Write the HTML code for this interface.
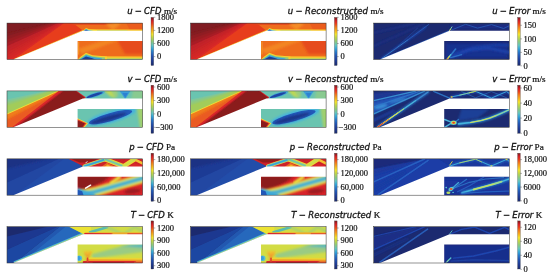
<!DOCTYPE html>
<html><head><meta charset="utf-8"><title>CFD vs Reconstructed</title>
<style>html,body{margin:0;padding:0;background:#fff}svg{display:block}
.t{font-family:"DejaVu Sans","Liberation Sans",sans-serif;font-style:italic;font-size:8.5px;word-spacing:-0.5px;fill:#111;stroke:#111;stroke-width:0.3px}
.u{font-family:"Liberation Serif",serif;font-style:normal;font-size:9.2px;fill:#111;stroke:#111;stroke-width:0.22px}
.k{font-family:"Liberation Serif",serif;font-size:8.5px;fill:#111;stroke:#111;stroke-width:0.2px}
</style></head><body>
<svg width="550" height="279" viewBox="0 0 550 279">
<defs>
<clipPath id="dom"><path d="M0,0H135.7V7.6H75.9L6.3,36.4H0Z M70.6,18.0H135.7V36.4H70.6Z"/></clipPath>
<filter id="bl" x="-5%" y="-20%" width="110%" height="140%"><feGaussianBlur stdDeviation="0.55"/></filter>
<filter id="bl0" x="-20%" y="-40%" width="140%" height="180%"><feGaussianBlur stdDeviation="0.4"/></filter>
<filter id="bl1" x="-20%" y="-40%" width="140%" height="180%"><feGaussianBlur stdDeviation="0.8"/></filter>
<filter id="bl2" x="-20%" y="-40%" width="140%" height="180%"><feGaussianBlur stdDeviation="1.3"/></filter>
<linearGradient id="jet" x1="0" y1="1" x2="0" y2="0"><stop offset="0.00" stop-color="#1b2a6b"/><stop offset="0.10" stop-color="#1e3a93"/><stop offset="0.20" stop-color="#2254b2"/><stop offset="0.28" stop-color="#2878c8"/><stop offset="0.35" stop-color="#34a5d8"/><stop offset="0.42" stop-color="#62c4c0"/><stop offset="0.50" stop-color="#8cc97c"/><stop offset="0.58" stop-color="#bed548"/><stop offset="0.65" stop-color="#f2e32c"/><stop offset="0.72" stop-color="#f6b21c"/><stop offset="0.80" stop-color="#f07a1c"/><stop offset="0.87" stop-color="#e83e1c"/><stop offset="0.93" stop-color="#d42026"/><stop offset="1.00" stop-color="#7a1a1e"/></linearGradient>
</defs>
<rect width="550" height="279" fill="#fff"/>
<g transform="translate(7.0,23.1)">
<g clip-path="url(#dom)"><g filter="url(#bl)">
<rect x="-8.0" y="-8.0" width="151.7" height="52.4" fill="#ee6c1e" />
<rect x="-8.0" y="-8.0" width="70.0" height="60.0" fill="#801a20" />
<polygon points="-8.0,11.7 41.8,0.0 41.8,-3.0 58.0,-3.0 58.0,0.0 -8.0,50.0" fill="#841b20" />
<polygon points="-8.0,15.4 44.1,0.0 44.1,-3.0 58.0,-3.0 58.0,0.0 -8.0,50.0" fill="#901c22" />
<polygon points="-8.0,19.2 46.4,0.0 46.4,-3.0 58.0,-3.0 58.0,0.0 -8.0,50.0" fill="#9c1d24" />
<polygon points="-8.0,22.9 48.7,0.0 48.7,-3.0 58.0,-3.0 58.0,0.0 -8.0,50.0" fill="#a81e25" />
<polygon points="-8.0,26.7 51.0,0.0 51.0,-3.0 58.0,-3.0 58.0,0.0 -8.0,50.0" fill="#c02129" />
<polygon points="-8.0,30.1 52.0,0.0 52.0,-3.0 58.0,-3.0 58.0,0.0 -8.0,50.0" fill="#c52329" />
<polygon points="-8.0,33.5 53.1,0.0 53.1,-3.0 58.0,-3.0 58.0,0.0 -8.0,50.0" fill="#ca2528" />
<polygon points="-8.0,36.9 54.1,0.0 54.1,-3.0 58.0,-3.0 58.0,0.0 -8.0,50.0" fill="#cf2628" />
<polygon points="-8.0,40.3 55.2,0.0 55.2,-3.0 58.0,-3.0 58.0,0.0 -8.0,50.0" fill="#d42828" />
<polygon points="-8.0,43.7 56.2,0.0 56.2,-3.0 58.0,-3.0 58.0,0.0 -8.0,50.0" fill="#d92a27" />
<polygon points="6.3,36.4 57.3,0.0 57.3,-3.0 66.0,-3.0 66.0,0.0 77.4,8.6" fill="#e73e1c" />
<line x1="7.3" y1="36.2" x2="75.9" y2="7.4" stroke="#f6c22a" stroke-width="1.00" stroke-linecap="round" />
<polygon points="60.0,-3.0 100.0,-3.0 108.0,1.8 66.0,1.8" fill="#e4431c" opacity="0.8"/>
<polygon points="118.0,-2.0 140.0,-2.0 140.0,9.0 124.0,9.0" fill="#ea581c" opacity="0.8"/>
<g filter="url(#bl2)">
<polygon points="98.0,1.0 106.0,7.0 114.0,1.0 106.0,-1.0" fill="#f69a2a" opacity="0.7"/>
</g>
<line x1="82.0" y1="7.0" x2="137.0" y2="7.1" stroke="#f6c62e" stroke-width="1.60" stroke-linecap="round" />
<line x1="82.0" y1="7.5" x2="120.0" y2="7.5" stroke="#b4d45c" stroke-width="0.70" stroke-linecap="round" />
<polygon points="75.6,8.2 79.0,5.0 83.0,6.5 90.0,6.8 90.0,8.2" fill="#f4dc30" />
<polygon points="76.2,8.2 79.0,5.8 82.5,7.1 88.0,8.2" fill="#4cb8d0" />
<polygon points="76.9,8.2 79.0,6.5 82.0,8.2" fill="#2554b0" />
<g filter="url(#bl2)">
<polygon points="110.0,17.0 140.0,17.0 140.0,31.0 118.0,31.0" fill="#e6481c" opacity="0.9"/>
<polygon points="75.0,31.0 112.0,17.0 98.0,17.0 71.0,26.0" fill="#f5962a" opacity="0.6"/>
</g>
<line x1="84.0" y1="34.9" x2="137.0" y2="35.1" stroke="#f6c62e" stroke-width="3.40" stroke-linecap="round" />
<line x1="84.0" y1="35.7" x2="137.0" y2="35.8" stroke="#c8d84a" stroke-width="1.70" stroke-linecap="round" />
<line x1="84.0" y1="36.3" x2="137.0" y2="36.3" stroke="#6cc4b0" stroke-width="0.90" stroke-linecap="round" />
<polygon points="70.0,37.0 73.5,33.6 79.0,29.6 85.5,32.2 100.0,33.3 100.0,37.0" fill="#f6d030" />
<polygon points="70.5,37.0 74.5,34.2 79.0,31.0 85.5,33.2 98.0,34.5 98.0,37.0" fill="#8ccc7c" />
<polygon points="71.5,37.0 75.0,34.8 79.0,32.0 85.5,34.0 95.0,35.5 95.0,37.0" fill="#3aa4d8" />
<polygon points="72.5,37.0 76.0,35.2 79.0,33.3 84.5,34.9 90.0,37.0" fill="#1f3c96" />
<line x1="71.6" y1="19.0" x2="71.6" y2="31.0" stroke="#f6a428" stroke-width="1.20" stroke-linecap="round" opacity="0.7"/>
</g></g>
<rect x="0" y="0" width="135.7" height="36.4" fill="none" stroke="#3a3a3a" stroke-width="0.55"/>
</g>
<rect x="151.0" y="17.4" width="2.7" height="48.1" fill="url(#jet)" stroke="#444" stroke-width="0.3"/>
<line x1="153.7" y1="17.3" x2="155.3" y2="17.3" stroke="#333" stroke-width="0.4"/><text class="k" x="157.0" y="20.1">1800</text>
<line x1="153.7" y1="30.4" x2="155.3" y2="30.4" stroke="#333" stroke-width="0.4"/><text class="k" x="157.0" y="33.1">1200</text>
<line x1="153.7" y1="43.5" x2="155.3" y2="43.5" stroke="#333" stroke-width="0.4"/><text class="k" x="157.0" y="46.2">600</text>
<line x1="153.7" y1="56.6" x2="155.3" y2="56.6" stroke="#333" stroke-width="0.4"/><text class="k" x="157.0" y="59.4">0</text>
<text class="t" text-anchor="middle" x="152.2" y="14.1">u − CFD<tspan class="u" dx="2.4" letter-spacing="0">m/s</tspan></text>
<g transform="translate(190.4,23.1)">
<g clip-path="url(#dom)"><g filter="url(#bl)">
<rect x="-8.0" y="-8.0" width="151.7" height="52.4" fill="#ee6c1e" />
<rect x="-8.0" y="-8.0" width="70.0" height="60.0" fill="#801a20" />
<polygon points="-8.0,11.7 41.8,0.0 41.8,-3.0 58.0,-3.0 58.0,0.0 -8.0,50.0" fill="#841b20" />
<polygon points="-8.0,15.4 44.1,0.0 44.1,-3.0 58.0,-3.0 58.0,0.0 -8.0,50.0" fill="#901c22" />
<polygon points="-8.0,19.2 46.4,0.0 46.4,-3.0 58.0,-3.0 58.0,0.0 -8.0,50.0" fill="#9c1d24" />
<polygon points="-8.0,22.9 48.7,0.0 48.7,-3.0 58.0,-3.0 58.0,0.0 -8.0,50.0" fill="#a81e25" />
<polygon points="-8.0,26.7 51.0,0.0 51.0,-3.0 58.0,-3.0 58.0,0.0 -8.0,50.0" fill="#c02129" />
<polygon points="-8.0,30.1 52.0,0.0 52.0,-3.0 58.0,-3.0 58.0,0.0 -8.0,50.0" fill="#c52329" />
<polygon points="-8.0,33.5 53.1,0.0 53.1,-3.0 58.0,-3.0 58.0,0.0 -8.0,50.0" fill="#ca2528" />
<polygon points="-8.0,36.9 54.1,0.0 54.1,-3.0 58.0,-3.0 58.0,0.0 -8.0,50.0" fill="#cf2628" />
<polygon points="-8.0,40.3 55.2,0.0 55.2,-3.0 58.0,-3.0 58.0,0.0 -8.0,50.0" fill="#d42828" />
<polygon points="-8.0,43.7 56.2,0.0 56.2,-3.0 58.0,-3.0 58.0,0.0 -8.0,50.0" fill="#d92a27" />
<polygon points="6.3,36.4 57.3,0.0 57.3,-3.0 66.0,-3.0 66.0,0.0 77.4,8.6" fill="#e73e1c" />
<line x1="7.3" y1="36.2" x2="75.9" y2="7.4" stroke="#f6c22a" stroke-width="1.00" stroke-linecap="round" />
<polygon points="60.0,-3.0 100.0,-3.0 108.0,1.8 66.0,1.8" fill="#e4431c" opacity="0.8"/>
<polygon points="118.0,-2.0 140.0,-2.0 140.0,9.0 124.0,9.0" fill="#ea581c" opacity="0.8"/>
<g filter="url(#bl2)">
<polygon points="98.0,1.0 106.0,7.0 114.0,1.0 106.0,-1.0" fill="#f69a2a" opacity="0.7"/>
</g>
<line x1="82.0" y1="7.0" x2="137.0" y2="7.1" stroke="#f6c62e" stroke-width="1.60" stroke-linecap="round" />
<line x1="82.0" y1="7.5" x2="120.0" y2="7.5" stroke="#b4d45c" stroke-width="0.70" stroke-linecap="round" />
<polygon points="75.6,8.2 79.0,5.0 83.0,6.5 90.0,6.8 90.0,8.2" fill="#f4dc30" />
<polygon points="76.2,8.2 79.0,5.8 82.5,7.1 88.0,8.2" fill="#4cb8d0" />
<polygon points="76.9,8.2 79.0,6.5 82.0,8.2" fill="#2554b0" />
<g filter="url(#bl2)">
<polygon points="110.0,17.0 140.0,17.0 140.0,31.0 118.0,31.0" fill="#e6481c" opacity="0.9"/>
<polygon points="75.0,31.0 112.0,17.0 98.0,17.0 71.0,26.0" fill="#f5962a" opacity="0.6"/>
</g>
<line x1="84.0" y1="34.9" x2="137.0" y2="35.1" stroke="#f6c62e" stroke-width="3.40" stroke-linecap="round" />
<line x1="84.0" y1="35.7" x2="137.0" y2="35.8" stroke="#c8d84a" stroke-width="1.70" stroke-linecap="round" />
<line x1="84.0" y1="36.3" x2="137.0" y2="36.3" stroke="#6cc4b0" stroke-width="0.90" stroke-linecap="round" />
<polygon points="70.0,37.0 73.5,33.6 79.0,29.6 85.5,32.2 100.0,33.3 100.0,37.0" fill="#f6d030" />
<polygon points="70.5,37.0 74.5,34.2 79.0,31.0 85.5,33.2 98.0,34.5 98.0,37.0" fill="#8ccc7c" />
<polygon points="71.5,37.0 75.0,34.8 79.0,32.0 85.5,34.0 95.0,35.5 95.0,37.0" fill="#3aa4d8" />
<polygon points="72.5,37.0 76.0,35.2 79.0,33.3 84.5,34.9 90.0,37.0" fill="#1f3c96" />
<line x1="71.6" y1="19.0" x2="71.6" y2="31.0" stroke="#f6a428" stroke-width="1.20" stroke-linecap="round" opacity="0.7"/>
</g></g>
<rect x="0" y="0" width="135.7" height="36.4" fill="none" stroke="#3a3a3a" stroke-width="0.55"/>
</g>
<rect x="334.4" y="17.4" width="2.7" height="48.1" fill="url(#jet)" stroke="#444" stroke-width="0.3"/>
<line x1="337.1" y1="17.3" x2="338.7" y2="17.3" stroke="#333" stroke-width="0.4"/><text class="k" x="340.4" y="20.1">1800</text>
<line x1="337.1" y1="30.4" x2="338.7" y2="30.4" stroke="#333" stroke-width="0.4"/><text class="k" x="340.4" y="33.1">1200</text>
<line x1="337.1" y1="43.5" x2="338.7" y2="43.5" stroke="#333" stroke-width="0.4"/><text class="k" x="340.4" y="46.2">600</text>
<line x1="337.1" y1="56.6" x2="338.7" y2="56.6" stroke="#333" stroke-width="0.4"/><text class="k" x="340.4" y="59.4">0</text>
<text class="t" text-anchor="middle" x="335.7" y="14.1" letter-spacing="0.1">u − Reconstructed<tspan class="u" dx="2.4" letter-spacing="0">m/s</tspan></text>
<g transform="translate(373.6,23.1)">
<g clip-path="url(#dom)"><g filter="url(#bl)">
<rect x="-8.0" y="-8.0" width="151.7" height="52.4" fill="#1b2a70" />
<g filter="url(#bl1)">
<polyline points="-1.0,10.0 41.8,0.2" fill="none" stroke="#1b3490" stroke-width="2.00" stroke-linecap="round" stroke-linejoin="round" opacity="0.60"/>
</g>
<g filter="url(#bl1)">
<polyline points="-1.0,23.5 51.0,0.2" fill="none" stroke="#1b3490" stroke-width="2.00" stroke-linecap="round" stroke-linejoin="round" opacity="0.60"/>
</g>
<g filter="url(#bl1)">
<polyline points="8.0,35.5 52.0,4.0" fill="none" stroke="#2048b4" stroke-width="2.00" stroke-linecap="round" stroke-linejoin="round" opacity="0.80"/>
</g>
<line x1="8.5" y1="35.2" x2="34.0" y2="17.0" stroke="#3a8ad0" stroke-width="0.90" stroke-linecap="round" opacity="0.90"/>
<line x1="34.0" y1="17.0" x2="55.0" y2="1.5" stroke="#2a64c0" stroke-width="0.80" stroke-linecap="round" opacity="0.90"/>
<line x1="20.0" y1="27.0" x2="44.0" y2="5.0" stroke="#2450b0" stroke-width="0.70" stroke-linecap="round" opacity="0.70"/>
<line x1="7.3" y1="36.2" x2="75.9" y2="7.4" stroke="#2a60bc" stroke-width="0.80" stroke-linecap="round" />
<g filter="url(#bl1)">
<rect x="77.0" y="1.5" width="62.0" height="4.2" fill="#1a2e8a" opacity="0.8"/>
</g>
<polyline points="78.0,6.9 92.0,1.2 104.0,5.0 118.0,1.5 130.0,5.4 137.0,2.0" fill="none" stroke="#2a5cb8" stroke-width="0.90" stroke-linecap="round" stroke-linejoin="round" opacity="0.9"/>
<line x1="76.1" y1="7.2" x2="78.3" y2="3.8" stroke="#7cd0b0" stroke-width="1.00" stroke-linecap="round" opacity="1.00"/>
<line x1="76.0" y1="7.4" x2="76.9" y2="6.1" stroke="#e8e040" stroke-width="0.80" stroke-linecap="round" opacity="1.00"/>
<g filter="url(#bl2)">
<rect x="72.0" y="20.0" width="62.0" height="15.0" fill="#1b3292" opacity="0.9"/>
</g>
<g filter="url(#bl1)">
<polyline points="78.0,34.0 95.0,27.2 115.0,25.0 137.0,29.5" fill="none" stroke="#2048b4" stroke-width="2.40" stroke-linecap="round" stroke-linejoin="round" opacity="0.90"/>
</g>
<g filter="url(#bl1)">
<polyline points="80.0,31.0 100.0,24.5 125.0,21.5 137.0,22.0" fill="none" stroke="#2048b4" stroke-width="1.80" stroke-linecap="round" stroke-linejoin="round" opacity="0.80"/>
</g>
<g filter="url(#bl0)">
<polyline points="76.0,33.5 82.0,26.0" fill="none" stroke="#2f7acc" stroke-width="1.60" stroke-linecap="round" stroke-linejoin="round" opacity="0.90"/>
</g>
<g filter="url(#bl0)">
<polyline points="77.0,34.5 88.0,31.5" fill="none" stroke="#2f7acc" stroke-width="1.40" stroke-linecap="round" stroke-linejoin="round" opacity="0.80"/>
</g>
<line x1="73.6" y1="36.0" x2="77.2" y2="31.6" stroke="#58c4d0" stroke-width="1.30" stroke-linecap="round" opacity="1.00"/>
<line x1="73.4" y1="36.2" x2="75.8" y2="33.2" stroke="#e8e040" stroke-width="1.10" stroke-linecap="round" opacity="1.00"/>
<line x1="73.2" y1="36.4" x2="74.4" y2="35.0" stroke="#f08a28" stroke-width="1.00" stroke-linecap="round" opacity="1.00"/>
</g></g>
<rect x="0" y="0" width="135.7" height="36.4" fill="none" stroke="#3a3a3a" stroke-width="0.55"/>
</g>
<rect x="517.6" y="17.4" width="2.7" height="48.1" fill="url(#jet)" stroke="#444" stroke-width="0.3"/>
<line x1="520.3" y1="25.3" x2="521.9" y2="25.3" stroke="#333" stroke-width="0.4"/><text class="k" x="523.6" y="28.1">150</text>
<line x1="520.3" y1="38.9" x2="521.9" y2="38.9" stroke="#333" stroke-width="0.4"/><text class="k" x="523.6" y="41.6">100</text>
<line x1="520.3" y1="52.4" x2="521.9" y2="52.4" stroke="#333" stroke-width="0.4"/><text class="k" x="523.6" y="55.1">50</text>
<line x1="520.3" y1="65.8" x2="521.9" y2="65.8" stroke="#333" stroke-width="0.4"/><text class="k" x="523.6" y="68.5">0</text>
<text class="t" text-anchor="middle" x="519.0" y="14.1">u − Error<tspan class="u" dx="2.4" letter-spacing="0">m/s</tspan></text>
<g transform="translate(7.0,90.9)">
<g clip-path="url(#dom)"><g filter="url(#bl)">
<rect x="-8.0" y="-8.0" width="151.7" height="52.4" fill="#6ac4b0" />
<polygon points="-8.0,10.2 39.0,0.0 51.0,0.0 -8.0,26.7" fill="#7cc6a0" />
<polygon points="-8.0,12.0 40.6,0.0 51.0,0.0 -8.0,26.7" fill="#86c88e" />
<polygon points="-8.0,13.7 42.2,0.0 51.0,0.0 -8.0,26.7" fill="#8fc97d" />
<polygon points="-8.0,15.5 43.8,0.0 51.0,0.0 -8.0,26.7" fill="#98ca6c" />
<polygon points="-8.0,17.2 45.4,0.0 51.0,0.0 -8.0,26.7" fill="#a2cc5a" />
<polygon points="-8.0,26.7 -8.0,44.0 6.3,37.4 57.3,0.0 57.3,-2.0 51.0,-2.0 51.0,0.0" fill="#f07c1e" />
<line x1="-2.0" y1="24.0" x2="51.0" y2="0.2" stroke="#f4e232" stroke-width="0.90" stroke-linecap="round" />
<g filter="url(#bl1)">
<polygon points="-8.0,40.0 5.3,37.4 56.0,0.0 54.0,0.0 -8.0,33.0" fill="#e8521e" opacity="0.8"/>
</g>
<polygon points="3.8,37.4 54.5,-2.0 66.8,-2.0 79.0,6.6 75.9,8.6" fill="#d8262a" />
<polygon points="7.1,36.9 58.0,-2.0 66.2,-2.0 77.8,6.6 75.9,8.6" fill="#b01e24" />
<polygon points="8.9,36.9 59.6,-2.0 65.6,-2.0 77.0,6.6 75.9,8.6" fill="#8a1a1e" />
<ellipse cx="88.4" cy="3.9" rx="10.2" ry="2.1" fill="#40a8d8" transform="rotate(-18.0 88.4 3.9)" />
<ellipse cx="87.6" cy="4.2" rx="8.6" ry="1.3" fill="#1f44a4" transform="rotate(-18.0 87.6 4.2)" />
<g filter="url(#bl1)">
<polygon points="96.5,-1.0 104.0,-1.0 108.5,7.6 103.0,5.4" fill="#c8da4a" opacity="0.9"/>
<polygon points="104.0,-1.0 110.0,-1.0 111.0,5.4 108.0,7.0" fill="#a6d070" opacity="0.8"/>
</g>
<polygon points="112.0,-1.0 124.0,-1.0 118.2,8.4" fill="#3a9cda" />
<polygon points="115.4,2.2 121.0,2.2 118.2,6.9" fill="#2f80d0" />
<g filter="url(#bl1)">
<polygon points="126.0,-1.0 140.0,-1.0 140.0,8.0 124.0,8.0" fill="#90cc88" opacity="0.8"/>
</g>
<g filter="url(#bl1)">
<ellipse cx="104.5" cy="25.8" rx="25.5" ry="5.9" fill="#46b4dc" transform="rotate(-15.7 104.5 25.8)" />
</g>
<ellipse cx="103.5" cy="26.2" rx="22.5" ry="4.0" fill="#2458b8" transform="rotate(-15.7 103.5 26.2)" />
<ellipse cx="97.0" cy="28.4" rx="11.0" ry="2.9" fill="#2458b8" transform="rotate(-14.0 97.0 28.4)" />
<g filter="url(#bl1)">
<ellipse cx="101.5" cy="27.4" rx="18.5" ry="2.3" fill="#1b3688" transform="rotate(-15.7 101.5 27.4)" />
</g>
<polygon points="70.0,27.0 70.0,38.0 76.0,38.0 81.0,32.4" fill="#f4de34" />
<polygon points="70.0,28.2 70.0,38.0 75.0,38.0 79.6,32.4" fill="#e0402a" />
<polygon points="70.0,29.4 70.0,38.0 74.0,38.0 78.0,32.5" fill="#8a1a1e" />
<g filter="url(#bl2)">
<polygon points="130.0,17.0 140.0,17.0 140.0,38.0 133.0,38.0" fill="#a8d264" opacity="0.85"/>
</g>
</g></g>
<rect x="0" y="0" width="135.7" height="36.4" fill="none" stroke="#3a3a3a" stroke-width="0.55"/>
</g>
<rect x="151.0" y="85.2" width="2.7" height="48.1" fill="url(#jet)" stroke="#444" stroke-width="0.3"/>
<line x1="153.7" y1="87.0" x2="155.3" y2="87.0" stroke="#333" stroke-width="0.4"/><text class="k" x="157.0" y="89.8">600</text>
<line x1="153.7" y1="100.5" x2="155.3" y2="100.5" stroke="#333" stroke-width="0.4"/><text class="k" x="157.0" y="103.2">300</text>
<line x1="153.7" y1="113.9" x2="155.3" y2="113.9" stroke="#333" stroke-width="0.4"/><text class="k" x="157.0" y="116.7">0</text>
<line x1="153.7" y1="127.3" x2="155.3" y2="127.3" stroke="#333" stroke-width="0.4"/><text class="k" x="155.4" y="130.1">−300</text>
<text class="t" text-anchor="middle" x="152.2" y="81.8">v − CFD<tspan class="u" dx="2.4" letter-spacing="0">m/s</tspan></text>
<g transform="translate(190.4,90.9)">
<g clip-path="url(#dom)"><g filter="url(#bl)">
<rect x="-8.0" y="-8.0" width="151.7" height="52.4" fill="#6ac4b0" />
<polygon points="-8.0,10.2 39.0,0.0 51.0,0.0 -8.0,26.7" fill="#7cc6a0" />
<polygon points="-8.0,12.0 40.6,0.0 51.0,0.0 -8.0,26.7" fill="#86c88e" />
<polygon points="-8.0,13.7 42.2,0.0 51.0,0.0 -8.0,26.7" fill="#8fc97d" />
<polygon points="-8.0,15.5 43.8,0.0 51.0,0.0 -8.0,26.7" fill="#98ca6c" />
<polygon points="-8.0,17.2 45.4,0.0 51.0,0.0 -8.0,26.7" fill="#a2cc5a" />
<polygon points="-8.0,26.7 -8.0,44.0 6.3,37.4 57.3,0.0 57.3,-2.0 51.0,-2.0 51.0,0.0" fill="#f07c1e" />
<line x1="-2.0" y1="24.0" x2="51.0" y2="0.2" stroke="#f4e232" stroke-width="0.90" stroke-linecap="round" />
<g filter="url(#bl1)">
<polygon points="-8.0,40.0 5.3,37.4 56.0,0.0 54.0,0.0 -8.0,33.0" fill="#e8521e" opacity="0.8"/>
</g>
<polygon points="3.8,37.4 54.5,-2.0 66.8,-2.0 79.0,6.6 75.9,8.6" fill="#d8262a" />
<polygon points="7.1,36.9 58.0,-2.0 66.2,-2.0 77.8,6.6 75.9,8.6" fill="#b01e24" />
<polygon points="8.9,36.9 59.6,-2.0 65.6,-2.0 77.0,6.6 75.9,8.6" fill="#8a1a1e" />
<ellipse cx="88.4" cy="3.9" rx="10.2" ry="2.1" fill="#40a8d8" transform="rotate(-18.0 88.4 3.9)" />
<ellipse cx="87.6" cy="4.2" rx="8.6" ry="1.3" fill="#1f44a4" transform="rotate(-18.0 87.6 4.2)" />
<g filter="url(#bl1)">
<polygon points="96.5,-1.0 104.0,-1.0 108.5,7.6 103.0,5.4" fill="#c8da4a" opacity="0.9"/>
<polygon points="104.0,-1.0 110.0,-1.0 111.0,5.4 108.0,7.0" fill="#a6d070" opacity="0.8"/>
</g>
<polygon points="112.0,-1.0 124.0,-1.0 118.2,8.4" fill="#3a9cda" />
<polygon points="115.4,2.2 121.0,2.2 118.2,6.9" fill="#2f80d0" />
<g filter="url(#bl1)">
<polygon points="126.0,-1.0 140.0,-1.0 140.0,8.0 124.0,8.0" fill="#90cc88" opacity="0.8"/>
</g>
<g filter="url(#bl1)">
<ellipse cx="104.5" cy="25.8" rx="25.5" ry="5.9" fill="#46b4dc" transform="rotate(-15.7 104.5 25.8)" />
</g>
<ellipse cx="103.5" cy="26.2" rx="22.5" ry="4.0" fill="#2458b8" transform="rotate(-15.7 103.5 26.2)" />
<ellipse cx="97.0" cy="28.4" rx="11.0" ry="2.9" fill="#2458b8" transform="rotate(-14.0 97.0 28.4)" />
<g filter="url(#bl1)">
<ellipse cx="101.5" cy="27.4" rx="18.5" ry="2.3" fill="#1b3688" transform="rotate(-15.7 101.5 27.4)" />
</g>
<polygon points="70.0,27.0 70.0,38.0 76.0,38.0 81.0,32.4" fill="#f4de34" />
<polygon points="70.0,28.2 70.0,38.0 75.0,38.0 79.6,32.4" fill="#e0402a" />
<polygon points="70.0,29.4 70.0,38.0 74.0,38.0 78.0,32.5" fill="#8a1a1e" />
<g filter="url(#bl2)">
<polygon points="130.0,17.0 140.0,17.0 140.0,38.0 133.0,38.0" fill="#a8d264" opacity="0.85"/>
</g>
</g></g>
<rect x="0" y="0" width="135.7" height="36.4" fill="none" stroke="#3a3a3a" stroke-width="0.55"/>
</g>
<rect x="334.4" y="85.2" width="2.7" height="48.1" fill="url(#jet)" stroke="#444" stroke-width="0.3"/>
<line x1="337.1" y1="87.0" x2="338.7" y2="87.0" stroke="#333" stroke-width="0.4"/><text class="k" x="340.4" y="89.8">600</text>
<line x1="337.1" y1="100.5" x2="338.7" y2="100.5" stroke="#333" stroke-width="0.4"/><text class="k" x="340.4" y="103.2">300</text>
<line x1="337.1" y1="113.9" x2="338.7" y2="113.9" stroke="#333" stroke-width="0.4"/><text class="k" x="340.4" y="116.7">0</text>
<line x1="337.1" y1="127.3" x2="338.7" y2="127.3" stroke="#333" stroke-width="0.4"/><text class="k" x="338.8" y="130.1">−300</text>
<text class="t" text-anchor="middle" x="335.7" y="81.8" letter-spacing="0.1">v − Reconstructed<tspan class="u" dx="2.4" letter-spacing="0">m/s</tspan></text>
<g transform="translate(373.6,90.9)">
<g clip-path="url(#dom)"><g filter="url(#bl)">
<rect x="-8.0" y="-8.0" width="151.7" height="52.4" fill="#1b2a70" />
<g filter="url(#bl1)">
<polygon points="-8.0,12.0 41.8,0.0 51.0,0.0 -8.0,27.0" fill="#2658bc" opacity="0.9"/>
</g>
<g filter="url(#bl1)">
<polygon points="-8.0,3.0 30.0,-1.0 41.8,0.0 -8.0,12.0" fill="#1e3c9c" opacity="0.8"/>
</g>
<g filter="url(#bl1)">
<ellipse cx="7.0" cy="15.5" rx="7.0" ry="2.2" fill="#3a92d8" transform="rotate(-14.0 7.0 15.5)" opacity="0.9"/>
</g>
<g filter="url(#bl1)">
<ellipse cx="24.0" cy="9.5" rx="9.0" ry="1.6" fill="#3486d0" transform="rotate(-13.0 24.0 9.5)" opacity="0.8"/>
</g>
<g filter="url(#bl0)">
<polyline points="-1.0,10.0 41.8,0.2" fill="none" stroke="#3a96d6" stroke-width="1.40" stroke-linecap="round" stroke-linejoin="round" opacity="0.90"/>
</g>
<g filter="url(#bl0)">
<polyline points="-1.0,16.5 46.0,0.4" fill="none" stroke="#2f7acc" stroke-width="1.20" stroke-linecap="round" stroke-linejoin="round" opacity="0.80"/>
</g>
<g filter="url(#bl0)">
<polyline points="-1.0,23.5 51.0,0.2" fill="none" stroke="#3a96d6" stroke-width="1.30" stroke-linecap="round" stroke-linejoin="round" opacity="0.90"/>
</g>
<g filter="url(#bl1)">
<polyline points="-1.0,30.0 20.0,20.0" fill="none" stroke="#2048b4" stroke-width="2.00" stroke-linecap="round" stroke-linejoin="round" opacity="0.80"/>
</g>
<g filter="url(#bl1)">
<polyline points="4.5,35.8 54.5,1.0" fill="none" stroke="#2f7acc" stroke-width="2.60" stroke-linecap="round" stroke-linejoin="round" opacity="0.90"/>
</g>
<line x1="4.5" y1="35.8" x2="54.5" y2="1.0" stroke="#3a8ad0" stroke-width="1.20" stroke-linecap="round" opacity="1.00"/>
<line x1="4.5" y1="35.8" x2="42.0" y2="9.7" stroke="#48b8d8" stroke-width="1.10" stroke-linecap="round" opacity="1.00"/>
<line x1="4.5" y1="35.8" x2="30.0" y2="18.0" stroke="#b8dc60" stroke-width="1.00" stroke-linecap="round" opacity="1.00"/>
<line x1="4.5" y1="35.8" x2="24.0" y2="22.2" stroke="#e8e040" stroke-width="1.00" stroke-linecap="round" opacity="1.00"/>
<line x1="4.2" y1="36.0" x2="15.0" y2="28.5" stroke="#f08a28" stroke-width="1.10" stroke-linecap="round" opacity="1.00"/>
<line x1="4.0" y1="36.2" x2="9.0" y2="32.7" stroke="#e0402a" stroke-width="1.10" stroke-linecap="round" opacity="1.00"/>
<g filter="url(#bl0)">
<polyline points="60.0,0.5 76.0,7.2" fill="none" stroke="#2f7acc" stroke-width="1.40" stroke-linecap="round" stroke-linejoin="round" opacity="0.90"/>
</g>
<g filter="url(#bl1)">
<polyline points="77.7,6.1 86.0,4.3 102.0,0.4 117.8,7.2 133.0,0.6 137.0,3.6" fill="none" stroke="#2048b4" stroke-width="2.40" stroke-linecap="round" stroke-linejoin="round" opacity="0.90"/>
</g>
<polyline points="77.7,6.1 86.0,4.3 102.0,0.4 117.8,7.2 133.0,0.6 137.0,3.6" fill="none" stroke="#3aa8d8" stroke-width="1.00" stroke-linecap="round" stroke-linejoin="round" />
<polyline points="88.0,0.6 102.0,6.9 117.8,0.6 133.0,6.9" fill="none" stroke="#2f7acc" stroke-width="0.70" stroke-linecap="round" stroke-linejoin="round" opacity="0.8"/>
<line x1="86.0" y1="4.3" x2="102.0" y2="0.4" stroke="#8cd49c" stroke-width="0.80" stroke-linecap="round" opacity="1.00"/>
<line x1="96.0" y1="1.8" x2="102.0" y2="0.4" stroke="#d8e048" stroke-width="0.70" stroke-linecap="round" opacity="1.00"/>
<ellipse cx="78.0" cy="6.1" rx="1.2" ry="0.8" fill="#f0c030" transform="rotate(0.0 78.0 6.1)" />
<g filter="url(#bl2)">
<polygon points="88.0,18.0 116.0,18.0 104.0,27.0 84.0,30.0" fill="#2250b0" opacity="0.6"/>
</g>
<g filter="url(#bl1)">
<polyline points="85.0,33.0 97.0,31.6 107.6,29.6 116.0,27.2 122.9,24.5 130.0,21.4 136.5,18.4" fill="none" stroke="#2f8ad0" stroke-width="3.00" stroke-linecap="round" stroke-linejoin="round" opacity="0.90"/>
</g>
<polyline points="85.0,33.0 97.0,31.6 107.6,29.6 116.0,27.2 122.9,24.5 130.0,21.4 136.5,18.4" fill="none" stroke="#44b4dc" stroke-width="1.70" stroke-linecap="round" stroke-linejoin="round" />
<polyline points="97.0,31.6 107.6,29.6 116.0,27.2 122.9,24.5 130.0,21.4 136.5,18.4" fill="none" stroke="#9cd890" stroke-width="1.00" stroke-linecap="round" stroke-linejoin="round" />
<polyline points="97.0,31.6 107.6,29.6 116.0,27.2 122.9,24.5" fill="none" stroke="#e8e040" stroke-width="0.70" stroke-linecap="round" stroke-linejoin="round" />
<g filter="url(#bl0)">
<polyline points="71.0,28.6 77.0,31.0 80.0,31.8" fill="none" stroke="#48b4dc" stroke-width="1.50" stroke-linecap="round" stroke-linejoin="round" opacity="1.00"/>
</g>
<g filter="url(#bl0)">
<polyline points="71.0,36.4 77.0,32.8 80.0,31.8" fill="none" stroke="#48b4dc" stroke-width="1.50" stroke-linecap="round" stroke-linejoin="round" opacity="1.00"/>
</g>
<g filter="url(#bl0)">
<polyline points="81.0,31.4 85.0,28.5" fill="none" stroke="#2f7acc" stroke-width="1.20" stroke-linecap="round" stroke-linejoin="round" opacity="0.90"/>
</g>
<g filter="url(#bl0)">
<ellipse cx="80.0" cy="31.8" rx="3.2" ry="2.2" fill="#58c8d0" transform="rotate(0.0 80.0 31.8)" />
</g>
<ellipse cx="80.0" cy="31.8" rx="2.3" ry="1.6" fill="#e8e040" transform="rotate(0.0 80.0 31.8)" />
<ellipse cx="80.0" cy="31.8" rx="1.4" ry="1.0" fill="#e0402a" transform="rotate(0.0 80.0 31.8)" />
</g></g>
<rect x="0" y="0" width="135.7" height="36.4" fill="none" stroke="#3a3a3a" stroke-width="0.55"/>
</g>
<rect x="517.6" y="85.2" width="2.7" height="48.1" fill="url(#jet)" stroke="#444" stroke-width="0.3"/>
<line x1="520.3" y1="88.0" x2="521.9" y2="88.0" stroke="#333" stroke-width="0.4"/><text class="k" x="523.6" y="90.8">60</text>
<line x1="520.3" y1="103.1" x2="521.9" y2="103.1" stroke="#333" stroke-width="0.4"/><text class="k" x="523.6" y="105.8">40</text>
<line x1="520.3" y1="118.1" x2="521.9" y2="118.1" stroke="#333" stroke-width="0.4"/><text class="k" x="523.6" y="120.8">20</text>
<line x1="520.3" y1="133.3" x2="521.9" y2="133.3" stroke="#333" stroke-width="0.4"/><text class="k" x="523.6" y="136.1">0</text>
<text class="t" text-anchor="middle" x="519.0" y="81.8">v − Error<tspan class="u" dx="2.4" letter-spacing="0">m/s</tspan></text>
<g transform="translate(7.0,158.8)">
<g clip-path="url(#dom)"><g filter="url(#bl)">
<rect x="-8.0" y="-8.0" width="151.7" height="52.4" fill="#1f3b95" />
<g filter="url(#bl2)">
<polygon points="-8.0,-8.0 50.0,-8.0 41.8,0.0 -8.0,11.7" fill="#1c3084" />
</g>
<polygon points="-8.0,27.5 52.0,0.0 64.0,-2.0 76.9,8.6 6.3,37.4 -8.0,44.0" fill="#2146a2" />
<polygon points="6.3,37.4 57.3,0.0 62.0,-2.0 76.9,8.6 14.3,37.4" fill="#2450ac" opacity="0.7"/>
<polygon points="57.2,-2.0 140.0,-2.0 140.0,9.0 77.5,9.0 76.2,7.4" fill="#cc222a" />
<polygon points="59.5,-2.0 94.0,-2.0 88.0,1.6 80.0,3.8 72.5,3.8" fill="#8c1a1e" opacity="0.9"/>
<g filter="url(#bl0)">
<polyline points="77.4,7.4 98.5,0.5" fill="none" stroke="#f2d432" stroke-width="3.70" stroke-linecap="round" stroke-linejoin="round" />
<polyline points="98.5,0.5 116.5,7.6 127.5,0.5" fill="none" stroke="#f2d432" stroke-width="4.60" stroke-linecap="round" stroke-linejoin="round" />
<polyline points="127.5,0.5 137.0,5.4" fill="none" stroke="#f4c030" stroke-width="2.60" stroke-linecap="round" stroke-linejoin="round" />
<polyline points="77.4,7.4 98.5,0.5" fill="none" stroke="#7cc8a0" stroke-width="2.80" stroke-linecap="round" stroke-linejoin="round" />
<polyline points="77.4,7.4 98.5,0.5" fill="none" stroke="#36a6da" stroke-width="1.70" stroke-linecap="round" stroke-linejoin="round" />
<polyline points="98.5,0.5 116.5,7.6" fill="none" stroke="#a8d470" stroke-width="3.00" stroke-linecap="round" stroke-linejoin="round" />
<polyline points="98.5,0.5 116.5,7.6" fill="none" stroke="#6cc4b0" stroke-width="1.40" stroke-linecap="round" stroke-linejoin="round" />
<polyline points="116.5,7.6 127.5,0.5" fill="none" stroke="#d0dc4c" stroke-width="2.80" stroke-linecap="round" stroke-linejoin="round" />
</g>
<polygon points="92.0,9.6 100.0,3.9 112.0,9.6" fill="#ec6a22" />
<polygon points="96.0,9.6 100.5,5.8 108.0,9.6" fill="#f4b02a" />
<polygon points="105.0,-2.0 122.0,-2.0 116.0,2.6 110.0,1.4" fill="#c8202a" />
<polygon points="120.0,9.6 127.5,4.5 140.0,8.6 140.0,9.6" fill="#d8282a" />
<polygon points="131.0,-2.0 140.0,-2.0 140.0,3.0" fill="#ee7a24" />
<line x1="78.8" y1="3.9" x2="80.2" y2="3.0" stroke="#ffffff" stroke-width="0.80" stroke-linecap="round" />
<rect x="70.0" y="17.0" width="70.0" height="22.0" fill="#d8242a" />
<g filter="url(#bl1)">
<polygon points="70.0,17.0 104.0,17.0 96.0,23.0 84.0,28.5 77.0,31.5 70.0,28.0" fill="#8c1a1e" />
</g>
<g filter="url(#bl1)">
<line x1="104.5" y1="24.0" x2="112.5" y2="18.4" stroke="#e8e040" stroke-width="3.40" stroke-linecap="round" />
</g>
<g filter="url(#bl1)">
<polyline points="72.0,36.2 80.0,34.6 88.0,33.0 100.0,29.6 112.0,26.2 124.0,22.8 140.0,18.2" fill="none" stroke="#f0e034" stroke-width="9.60" stroke-linecap="round" stroke-linejoin="round" />
<polyline points="72.0,36.2 80.0,34.6 88.0,33.0 100.0,29.6 112.0,26.2 124.0,22.8 140.0,18.2" fill="none" stroke="#84cc98" stroke-width="5.60" stroke-linecap="round" stroke-linejoin="round" />
<polyline points="72.0,36.2 80.0,34.6 88.0,33.0 100.0,29.6 112.0,26.2 124.0,22.8 140.0,18.2" fill="none" stroke="#38aadc" stroke-width="2.60" stroke-linecap="round" stroke-linejoin="round" />
</g>
<g filter="url(#bl1)">
<polygon points="70.0,29.0 77.0,31.4 81.0,33.2 87.0,34.4 89.0,38.0 70.0,38.0" fill="#3aa8dc" />
</g>
<polygon points="70.0,30.6 75.2,32.4 77.0,38.0 70.0,38.0" fill="#2458b8" />
<g filter="url(#bl2)">
<ellipse cx="125.5" cy="32.4" rx="8.5" ry="2.4" fill="#9c1c20" transform="rotate(-6.0 125.5 32.4)" />
</g>
<line x1="78.6" y1="29.4" x2="83.6" y2="26.4" stroke="#ffffff" stroke-width="1.50" stroke-linecap="round" />
</g></g>
<rect x="0" y="0" width="135.7" height="36.4" fill="none" stroke="#3a3a3a" stroke-width="0.55"/>
</g>
<rect x="151.0" y="153.2" width="2.7" height="48.1" fill="url(#jet)" stroke="#444" stroke-width="0.3"/>
<line x1="153.7" y1="159.6" x2="155.3" y2="159.6" stroke="#333" stroke-width="0.4"/><text class="k" x="157.0" y="162.3">180,000</text>
<line x1="153.7" y1="173.2" x2="155.3" y2="173.2" stroke="#333" stroke-width="0.4"/><text class="k" x="157.0" y="175.9">120,000</text>
<line x1="153.7" y1="186.9" x2="155.3" y2="186.9" stroke="#333" stroke-width="0.4"/><text class="k" x="157.0" y="189.7">60,000</text>
<line x1="153.7" y1="200.6" x2="155.3" y2="200.6" stroke="#333" stroke-width="0.4"/><text class="k" x="157.0" y="203.3">0</text>
<text class="t" text-anchor="middle" x="152.2" y="149.5">p − CFD<tspan class="u" dx="2.4" letter-spacing="0">Pa</tspan></text>
<g transform="translate(190.4,158.8)">
<g clip-path="url(#dom)"><g filter="url(#bl)">
<rect x="-8.0" y="-8.0" width="151.7" height="52.4" fill="#1f3b95" />
<g filter="url(#bl2)">
<polygon points="-8.0,-8.0 50.0,-8.0 41.8,0.0 -8.0,11.7" fill="#1c3084" />
</g>
<polygon points="-8.0,27.5 52.0,0.0 64.0,-2.0 76.9,8.6 6.3,37.4 -8.0,44.0" fill="#2146a2" />
<polygon points="6.3,37.4 57.3,0.0 62.0,-2.0 76.9,8.6 14.3,37.4" fill="#2450ac" opacity="0.7"/>
<polygon points="57.2,-2.0 140.0,-2.0 140.0,9.0 77.5,9.0 76.2,7.4" fill="#cc222a" />
<polygon points="59.5,-2.0 94.0,-2.0 88.0,1.6 80.0,3.8 72.5,3.8" fill="#8c1a1e" opacity="0.9"/>
<g filter="url(#bl0)">
<polyline points="77.4,7.4 98.5,0.5" fill="none" stroke="#f2d432" stroke-width="3.70" stroke-linecap="round" stroke-linejoin="round" />
<polyline points="98.5,0.5 116.5,7.6 127.5,0.5" fill="none" stroke="#f2d432" stroke-width="4.60" stroke-linecap="round" stroke-linejoin="round" />
<polyline points="127.5,0.5 137.0,5.4" fill="none" stroke="#f4c030" stroke-width="2.60" stroke-linecap="round" stroke-linejoin="round" />
<polyline points="77.4,7.4 98.5,0.5" fill="none" stroke="#7cc8a0" stroke-width="2.80" stroke-linecap="round" stroke-linejoin="round" />
<polyline points="77.4,7.4 98.5,0.5" fill="none" stroke="#36a6da" stroke-width="1.70" stroke-linecap="round" stroke-linejoin="round" />
<polyline points="98.5,0.5 116.5,7.6" fill="none" stroke="#a8d470" stroke-width="3.00" stroke-linecap="round" stroke-linejoin="round" />
<polyline points="98.5,0.5 116.5,7.6" fill="none" stroke="#6cc4b0" stroke-width="1.40" stroke-linecap="round" stroke-linejoin="round" />
<polyline points="116.5,7.6 127.5,0.5" fill="none" stroke="#d0dc4c" stroke-width="2.80" stroke-linecap="round" stroke-linejoin="round" />
</g>
<polygon points="92.0,9.6 100.0,3.9 112.0,9.6" fill="#ec6a22" />
<polygon points="96.0,9.6 100.5,5.8 108.0,9.6" fill="#f4b02a" />
<polygon points="105.0,-2.0 122.0,-2.0 116.0,2.6 110.0,1.4" fill="#c8202a" />
<polygon points="120.0,9.6 127.5,4.5 140.0,8.6 140.0,9.6" fill="#d8282a" />
<polygon points="131.0,-2.0 140.0,-2.0 140.0,3.0" fill="#ee7a24" />
<rect x="70.0" y="17.0" width="70.0" height="22.0" fill="#d8242a" />
<g filter="url(#bl1)">
<polygon points="70.0,17.0 104.0,17.0 96.0,23.0 84.0,28.5 77.0,31.5 70.0,28.0" fill="#8c1a1e" />
</g>
<g filter="url(#bl1)">
<line x1="104.5" y1="24.0" x2="112.5" y2="18.4" stroke="#e8e040" stroke-width="3.40" stroke-linecap="round" />
</g>
<g filter="url(#bl1)">
<polyline points="72.0,36.2 80.0,34.6 88.0,33.0 100.0,29.6 112.0,26.2 124.0,22.8 140.0,18.2" fill="none" stroke="#f0e034" stroke-width="9.60" stroke-linecap="round" stroke-linejoin="round" />
<polyline points="72.0,36.2 80.0,34.6 88.0,33.0 100.0,29.6 112.0,26.2 124.0,22.8 140.0,18.2" fill="none" stroke="#84cc98" stroke-width="5.60" stroke-linecap="round" stroke-linejoin="round" />
<polyline points="72.0,36.2 80.0,34.6 88.0,33.0 100.0,29.6 112.0,26.2 124.0,22.8 140.0,18.2" fill="none" stroke="#38aadc" stroke-width="2.60" stroke-linecap="round" stroke-linejoin="round" />
</g>
<g filter="url(#bl1)">
<polygon points="70.0,29.0 77.0,31.4 81.0,33.2 87.0,34.4 89.0,38.0 70.0,38.0" fill="#3aa8dc" />
</g>
<polygon points="70.0,30.6 75.2,32.4 77.0,38.0 70.0,38.0" fill="#2458b8" />
<g filter="url(#bl2)">
<ellipse cx="125.5" cy="32.4" rx="8.5" ry="2.4" fill="#9c1c20" transform="rotate(-6.0 125.5 32.4)" />
</g>
</g></g>
<rect x="0" y="0" width="135.7" height="36.4" fill="none" stroke="#3a3a3a" stroke-width="0.55"/>
</g>
<rect x="334.4" y="153.2" width="2.7" height="48.1" fill="url(#jet)" stroke="#444" stroke-width="0.3"/>
<line x1="337.1" y1="159.6" x2="338.7" y2="159.6" stroke="#333" stroke-width="0.4"/><text class="k" x="340.4" y="162.3">180,000</text>
<line x1="337.1" y1="173.2" x2="338.7" y2="173.2" stroke="#333" stroke-width="0.4"/><text class="k" x="340.4" y="175.9">120,000</text>
<line x1="337.1" y1="186.9" x2="338.7" y2="186.9" stroke="#333" stroke-width="0.4"/><text class="k" x="340.4" y="189.7">60,000</text>
<line x1="337.1" y1="200.6" x2="338.7" y2="200.6" stroke="#333" stroke-width="0.4"/><text class="k" x="340.4" y="203.3">0</text>
<text class="t" text-anchor="middle" x="335.7" y="149.5" letter-spacing="0.1">p − Reconstructed<tspan class="u" dx="2.4" letter-spacing="0">Pa</tspan></text>
<g transform="translate(373.6,158.8)">
<g clip-path="url(#dom)"><g filter="url(#bl)">
<rect x="-8.0" y="-8.0" width="151.7" height="52.4" fill="#1a3ca6" />
<polygon points="-8.0,-8.0 60.0,-8.0 54.0,0.0 -8.0,12.0" fill="#1b2a7a" />
<g filter="url(#bl1)">
<polygon points="-8.0,12.0 54.0,0.0 -8.0,18.0" fill="#1e3a98" opacity="0.8"/>
</g>
<g filter="url(#bl0)">
<polyline points="-1.0,23.5 51.0,0.2" fill="none" stroke="#2a64c4" stroke-width="1.40" stroke-linecap="round" stroke-linejoin="round" opacity="0.90"/>
</g>
<g filter="url(#bl0)">
<polyline points="4.5,35.8 54.5,1.5" fill="none" stroke="#2a64c4" stroke-width="1.40" stroke-linecap="round" stroke-linejoin="round" opacity="0.90"/>
</g>
<g filter="url(#bl1)">
<polyline points="-1.0,31.0 30.0,14.0" fill="none" stroke="#1c3fa0" stroke-width="2.50" stroke-linecap="round" stroke-linejoin="round" opacity="0.80"/>
</g>
<polygon points="62.0,-2.0 140.0,-2.0 140.0,9.0 77.0,9.0 76.2,7.4" fill="#1a389c" />
<g filter="url(#bl1)">
<polyline points="76.3,7.2 86.0,4.1 102.0,0.4 117.8,7.2 133.0,0.6 137.0,3.6" fill="none" stroke="#2a64c4" stroke-width="2.20" stroke-linecap="round" stroke-linejoin="round" opacity="0.90"/>
</g>
<polyline points="76.3,7.2 86.0,4.1 102.0,0.4 117.8,7.2 133.0,0.6 137.0,3.6" fill="none" stroke="#3aa8d8" stroke-width="1.00" stroke-linecap="round" stroke-linejoin="round" />
<polyline points="86.0,4.1 102.0,0.4 108.0,3.2" fill="none" stroke="#c8dc50" stroke-width="0.70" stroke-linecap="round" stroke-linejoin="round" />
<line x1="76.2" y1="6.2" x2="78.6" y2="2.8" stroke="#e8d838" stroke-width="0.90" stroke-linecap="round" opacity="1.00"/>
<ellipse cx="117.8" cy="7.1" rx="1.1" ry="0.7" fill="#e8e040" transform="rotate(0.0 117.8 7.1)" />
<ellipse cx="133.0" cy="0.8" rx="1.1" ry="0.7" fill="#e8e040" transform="rotate(0.0 133.0 0.8)" />
<rect x="70.0" y="17.0" width="70.0" height="22.0" fill="#1a369c" />
<g filter="url(#bl1)">
<rect x="70.0" y="17.0" width="70.0" height="3.0" fill="#1b2f88" opacity="0.8"/>
<rect x="70.0" y="34.5" width="70.0" height="4.0" fill="#1b2f88" opacity="0.6"/>
</g>
<g filter="url(#bl1)">
<polyline points="88.5,33.9 100.0,30.7 110.0,28.0 120.3,25.2 128.0,22.8 136.5,19.8" fill="none" stroke="#2f8ad0" stroke-width="2.80" stroke-linecap="round" stroke-linejoin="round" opacity="0.90"/>
</g>
<polyline points="88.5,33.9 100.0,30.7 110.0,28.0 120.3,25.2 128.0,22.8 136.5,19.8" fill="none" stroke="#44b4dc" stroke-width="1.50" stroke-linecap="round" stroke-linejoin="round" />
<polyline points="100.0,30.7 110.0,28.0 120.3,25.2 128.0,22.8" fill="none" stroke="#9cd890" stroke-width="1.90" stroke-linecap="round" stroke-linejoin="round" />
<polyline points="100.0,30.7 110.0,28.0 120.3,25.2" fill="none" stroke="#d8e048" stroke-width="0.80" stroke-linecap="round" stroke-linejoin="round" />
<g filter="url(#bl0)">
<polyline points="80.0,29.5 96.0,23.5 112.0,20.2 130.0,18.8" fill="none" stroke="#2f7acc" stroke-width="1.20" stroke-linecap="round" stroke-linejoin="round" opacity="0.80"/>
</g>
<g filter="url(#bl0)">
<polyline points="84.0,33.0 96.0,27.0 104.0,22.0 110.0,18.5" fill="none" stroke="#2a64c4" stroke-width="1.20" stroke-linecap="round" stroke-linejoin="round" opacity="0.80"/>
</g>
<g filter="url(#bl0)">
<polyline points="88.0,34.6 112.0,33.0 137.0,32.2" fill="none" stroke="#2a6cc8" stroke-width="1.20" stroke-linecap="round" stroke-linejoin="round" opacity="0.80"/>
</g>
<g filter="url(#bl0)">
<polyline points="78.5,29.6 85.0,23.8" fill="none" stroke="#48b4dc" stroke-width="1.30" stroke-linecap="round" stroke-linejoin="round" opacity="0.90"/>
</g>
<g filter="url(#bl0)">
<polyline points="80.5,29.2 93.0,20.5" fill="none" stroke="#2f7acc" stroke-width="1.10" stroke-linecap="round" stroke-linejoin="round" opacity="0.90"/>
</g>
<g filter="url(#bl0)">
<ellipse cx="77.5" cy="30.2" rx="2.9" ry="1.9" fill="#58c8d0" transform="rotate(-30.0 77.5 30.2)" />
</g>
<ellipse cx="77.5" cy="30.2" rx="1.5" ry="1.0" fill="#e8602a" transform="rotate(0.0 77.5 30.2)" />
<ellipse cx="74.8" cy="34.0" rx="2.0" ry="1.3" fill="#b8dc60" transform="rotate(0.0 74.8 34.0)" />
<ellipse cx="72.6" cy="28.8" rx="0.9" ry="0.8" fill="#58c8d0" transform="rotate(0.0 72.6 28.8)" />
<ellipse cx="79.5" cy="33.6" rx="0.9" ry="0.7" fill="#58c8d0" transform="rotate(0.0 79.5 33.6)" />
</g></g>
<rect x="0" y="0" width="135.7" height="36.4" fill="none" stroke="#3a3a3a" stroke-width="0.55"/>
</g>
<rect x="517.6" y="153.2" width="2.7" height="48.1" fill="url(#jet)" stroke="#444" stroke-width="0.3"/>
<line x1="520.3" y1="159.6" x2="521.9" y2="159.6" stroke="#333" stroke-width="0.4"/><text class="k" x="523.6" y="162.3">18,000</text>
<line x1="520.3" y1="173.4" x2="521.9" y2="173.4" stroke="#333" stroke-width="0.4"/><text class="k" x="523.6" y="176.2">12,000</text>
<line x1="520.3" y1="187.1" x2="521.9" y2="187.1" stroke="#333" stroke-width="0.4"/><text class="k" x="523.6" y="189.8">6000</text>
<line x1="520.3" y1="200.8" x2="521.9" y2="200.8" stroke="#333" stroke-width="0.4"/><text class="k" x="523.6" y="203.6">0</text>
<text class="t" text-anchor="middle" x="519.0" y="149.5">p − Error<tspan class="u" dx="2.4" letter-spacing="0">Pa</tspan></text>
<g transform="translate(7.0,226.6)">
<g clip-path="url(#dom)"><g filter="url(#bl)">
<rect x="-8.0" y="-8.0" width="151.7" height="52.4" fill="#1c2b6e" />
<polygon points="-8.0,11.7 41.8,0.0 51.0,0.0 -8.0,26.7" fill="#1d3890" />
<polygon points="-8.0,26.7 51.0,0.0 51.0,-2.0 53.0,-2.0 53.0,0.0 6.3,37.4 -8.0,44.0" fill="#1f46a2" />
<polygon points="6.3,37.4 53.0,0.0 53.0,-2.0 65.0,-2.0 77.9,8.6" fill="#2258b0" />
<polygon points="12.3,37.4 59.0,0.0 59.0,-2.0 65.0,-2.0 77.9,8.6" fill="#2868bc" />
<line x1="7.3" y1="35.4" x2="75.9" y2="6.6" stroke="#4cb4d8" stroke-width="1.40" stroke-linecap="round" />
<line x1="7.3" y1="36.0" x2="75.9" y2="7.2" stroke="#b8dc60" stroke-width="0.80" stroke-linecap="round" />
<polygon points="57.5,-2.0 140.0,-2.0 140.0,9.0 77.5,9.0 76.2,7.4" fill="#d2dc44" />
<polygon points="58.5,-2.0 84.0,-2.0 84.0,4.9 79.0,6.5 76.2,7.0" fill="#ece232" />
<line x1="83.0" y1="5.6" x2="100.0" y2="0.7" stroke="#58bcb0" stroke-width="2.50" stroke-linecap="round" />
<g filter="url(#bl1)">
<polyline points="100.0,0.7 116.5,7.6 127.5,0.5 137.0,5.4" fill="none" stroke="#98cc80" stroke-width="2.30" stroke-linecap="round" stroke-linejoin="round" opacity="0.8"/>
</g>
<line x1="78.5" y1="6.8" x2="137.0" y2="6.9" stroke="#f0b02a" stroke-width="2.30" stroke-linecap="round" opacity="0.9"/>
<line x1="78.0" y1="7.3" x2="105.0" y2="7.5" stroke="#d8262a" stroke-width="1.80" stroke-linecap="round" />
<line x1="105.0" y1="7.5" x2="121.0" y2="7.5" stroke="#f09a28" stroke-width="1.30" stroke-linecap="round" />
<line x1="121.0" y1="7.5" x2="137.0" y2="7.5" stroke="#e0402a" stroke-width="1.70" stroke-linecap="round" />
<rect x="70.0" y="17.0" width="70.0" height="22.0" fill="#d2dc44" />
<g filter="url(#bl2)">
<polygon points="84.5,27.6 122.7,17.5 140.0,17.0 140.0,25.0 86.0,31.8" fill="#94ca8a" opacity="0.9"/>
<polygon points="112.0,19.5 140.0,17.0 140.0,21.5" fill="#52b6c4" opacity="0.9"/>
</g>
<g filter="url(#bl1)">
<polygon points="76.0,24.5 86.0,24.5 82.0,29.5 79.5,29.5" fill="#f0c02e" opacity="0.9"/>
</g>
<g filter="url(#bl1)">
<polygon points="78.4,35.0 79.7,30.4 77.2,26.6 84.2,26.2 81.7,30.4 83.0,35.0" fill="#f0962a" />
<polygon points="79.2,25.6 82.4,25.4 80.7,28.8" fill="#f0cc34" />
</g>
<g filter="url(#bl0)">
<line x1="83.0" y1="33.6" x2="137.0" y2="34.2" stroke="#ecd432" stroke-width="5.60" stroke-linecap="round" />
<line x1="81.0" y1="34.6" x2="137.0" y2="35.1" stroke="#f09a28" stroke-width="3.80" stroke-linecap="round" />
<line x1="77.0" y1="35.6" x2="128.0" y2="35.8" stroke="#d8262a" stroke-width="2.60" stroke-linecap="round" />
<line x1="128.0" y1="35.8" x2="137.0" y2="35.9" stroke="#e4502a" stroke-width="2.00" stroke-linecap="round" />
<line x1="86.0" y1="36.2" x2="117.0" y2="36.2" stroke="#9c1c20" stroke-width="1.10" stroke-linecap="round" />
<line x1="80.6" y1="35.0" x2="80.6" y2="31.8" stroke="#e0402a" stroke-width="1.60" stroke-linecap="round" />
</g>
<ellipse cx="72.2" cy="31.6" rx="2.9" ry="2.8" fill="#58c0d0" transform="rotate(0.0 72.2 31.6)" />
<ellipse cx="71.6" cy="31.6" rx="1.9" ry="2.1" fill="#3a9cdc" transform="rotate(0.0 71.6 31.6)" />
</g></g>
<rect x="0" y="0" width="135.7" height="36.4" fill="none" stroke="#3a3a3a" stroke-width="0.55"/>
</g>
<rect x="151.0" y="220.9" width="2.7" height="48.1" fill="url(#jet)" stroke="#444" stroke-width="0.3"/>
<line x1="153.7" y1="228.0" x2="155.3" y2="228.0" stroke="#333" stroke-width="0.4"/><text class="k" x="157.0" y="230.8">1200</text>
<line x1="153.7" y1="240.6" x2="155.3" y2="240.6" stroke="#333" stroke-width="0.4"/><text class="k" x="157.0" y="243.3">900</text>
<line x1="153.7" y1="253.1" x2="155.3" y2="253.1" stroke="#333" stroke-width="0.4"/><text class="k" x="157.0" y="255.8">600</text>
<line x1="153.7" y1="265.7" x2="155.3" y2="265.7" stroke="#333" stroke-width="0.4"/><text class="k" x="157.0" y="268.4">300</text>
<text class="t" text-anchor="middle" x="152.2" y="218.0">T − CFD<tspan class="u" dx="2.4" letter-spacing="0">K</tspan></text>
<g transform="translate(190.4,226.6)">
<g clip-path="url(#dom)"><g filter="url(#bl)">
<rect x="-8.0" y="-8.0" width="151.7" height="52.4" fill="#1c2b6e" />
<polygon points="-8.0,11.7 41.8,0.0 51.0,0.0 -8.0,26.7" fill="#1d3890" />
<polygon points="-8.0,26.7 51.0,0.0 51.0,-2.0 53.0,-2.0 53.0,0.0 6.3,37.4 -8.0,44.0" fill="#1f46a2" />
<polygon points="6.3,37.4 53.0,0.0 53.0,-2.0 65.0,-2.0 77.9,8.6" fill="#2258b0" />
<polygon points="12.3,37.4 59.0,0.0 59.0,-2.0 65.0,-2.0 77.9,8.6" fill="#2868bc" />
<line x1="7.3" y1="35.4" x2="75.9" y2="6.6" stroke="#4cb4d8" stroke-width="1.40" stroke-linecap="round" />
<line x1="7.3" y1="36.0" x2="75.9" y2="7.2" stroke="#b8dc60" stroke-width="0.80" stroke-linecap="round" />
<polygon points="57.5,-2.0 140.0,-2.0 140.0,9.0 77.5,9.0 76.2,7.4" fill="#d2dc44" />
<polygon points="58.5,-2.0 84.0,-2.0 84.0,4.9 79.0,6.5 76.2,7.0" fill="#ece232" />
<line x1="83.0" y1="5.6" x2="100.0" y2="0.7" stroke="#58bcb0" stroke-width="2.50" stroke-linecap="round" />
<g filter="url(#bl1)">
<polyline points="100.0,0.7 116.5,7.6 127.5,0.5 137.0,5.4" fill="none" stroke="#98cc80" stroke-width="2.30" stroke-linecap="round" stroke-linejoin="round" opacity="0.8"/>
</g>
<line x1="78.5" y1="6.8" x2="137.0" y2="6.9" stroke="#f0b02a" stroke-width="2.30" stroke-linecap="round" opacity="0.9"/>
<line x1="78.0" y1="7.3" x2="105.0" y2="7.5" stroke="#d8262a" stroke-width="1.80" stroke-linecap="round" />
<line x1="105.0" y1="7.5" x2="121.0" y2="7.5" stroke="#f09a28" stroke-width="1.30" stroke-linecap="round" />
<line x1="121.0" y1="7.5" x2="137.0" y2="7.5" stroke="#e0402a" stroke-width="1.70" stroke-linecap="round" />
<rect x="70.0" y="17.0" width="70.0" height="22.0" fill="#d2dc44" />
<g filter="url(#bl2)">
<polygon points="84.5,27.6 122.7,17.5 140.0,17.0 140.0,25.0 86.0,31.8" fill="#94ca8a" opacity="0.9"/>
<polygon points="112.0,19.5 140.0,17.0 140.0,21.5" fill="#52b6c4" opacity="0.9"/>
</g>
<g filter="url(#bl1)">
<polygon points="76.0,24.5 86.0,24.5 82.0,29.5 79.5,29.5" fill="#f0c02e" opacity="0.9"/>
</g>
<g filter="url(#bl1)">
<polygon points="78.4,35.0 79.7,30.4 77.2,26.6 84.2,26.2 81.7,30.4 83.0,35.0" fill="#f0962a" />
<polygon points="79.2,25.6 82.4,25.4 80.7,28.8" fill="#f0cc34" />
</g>
<g filter="url(#bl0)">
<line x1="83.0" y1="33.6" x2="137.0" y2="34.2" stroke="#ecd432" stroke-width="5.60" stroke-linecap="round" />
<line x1="81.0" y1="34.6" x2="137.0" y2="35.1" stroke="#f09a28" stroke-width="3.80" stroke-linecap="round" />
<line x1="77.0" y1="35.6" x2="128.0" y2="35.8" stroke="#d8262a" stroke-width="2.60" stroke-linecap="round" />
<line x1="128.0" y1="35.8" x2="137.0" y2="35.9" stroke="#e4502a" stroke-width="2.00" stroke-linecap="round" />
<line x1="86.0" y1="36.2" x2="117.0" y2="36.2" stroke="#9c1c20" stroke-width="1.10" stroke-linecap="round" />
<line x1="80.6" y1="35.0" x2="80.6" y2="31.8" stroke="#e0402a" stroke-width="1.60" stroke-linecap="round" />
</g>
<ellipse cx="72.2" cy="31.6" rx="2.9" ry="2.8" fill="#58c0d0" transform="rotate(0.0 72.2 31.6)" />
<ellipse cx="71.6" cy="31.6" rx="1.9" ry="2.1" fill="#3a9cdc" transform="rotate(0.0 71.6 31.6)" />
</g></g>
<rect x="0" y="0" width="135.7" height="36.4" fill="none" stroke="#3a3a3a" stroke-width="0.55"/>
</g>
<rect x="334.4" y="220.9" width="2.7" height="48.1" fill="url(#jet)" stroke="#444" stroke-width="0.3"/>
<line x1="337.1" y1="228.0" x2="338.7" y2="228.0" stroke="#333" stroke-width="0.4"/><text class="k" x="340.4" y="230.8">1200</text>
<line x1="337.1" y1="240.6" x2="338.7" y2="240.6" stroke="#333" stroke-width="0.4"/><text class="k" x="340.4" y="243.3">900</text>
<line x1="337.1" y1="253.1" x2="338.7" y2="253.1" stroke="#333" stroke-width="0.4"/><text class="k" x="340.4" y="255.8">600</text>
<line x1="337.1" y1="265.7" x2="338.7" y2="265.7" stroke="#333" stroke-width="0.4"/><text class="k" x="340.4" y="268.4">300</text>
<text class="t" text-anchor="middle" x="335.7" y="218.0" letter-spacing="0.1">T − Reconstructed<tspan class="u" dx="2.4" letter-spacing="0">K</tspan></text>
<g transform="translate(373.6,226.6)">
<g clip-path="url(#dom)"><g filter="url(#bl)">
<rect x="-8.0" y="-8.0" width="151.7" height="52.4" fill="#1b2a70" />
<g filter="url(#bl1)">
<polygon points="-8.0,12.0 41.8,0.0 51.0,0.0 -8.0,27.0" fill="#1c3494" opacity="0.6"/>
</g>
<g filter="url(#bl0)">
<polyline points="-1.0,10.0 41.8,0.2" fill="none" stroke="#2048b4" stroke-width="1.00" stroke-linecap="round" stroke-linejoin="round" opacity="0.80"/>
</g>
<g filter="url(#bl0)">
<polyline points="-1.0,23.5 51.0,0.2" fill="none" stroke="#2048b4" stroke-width="1.20" stroke-linecap="round" stroke-linejoin="round" opacity="0.90"/>
</g>
<g filter="url(#bl0)">
<polyline points="6.0,35.8 54.0,2.5" fill="none" stroke="#2a60bc" stroke-width="1.50" stroke-linecap="round" stroke-linejoin="round" opacity="0.95"/>
</g>
<g filter="url(#bl1)">
<polyline points="-1.0,29.0 34.0,12.0" fill="none" stroke="#1b3490" stroke-width="2.00" stroke-linecap="round" stroke-linejoin="round" opacity="0.80"/>
</g>
<g filter="url(#bl0)">
<polyline points="78.0,6.9 88.0,2.7 101.0,0.5 116.0,6.8 131.0,0.8 137.0,3.8" fill="none" stroke="#2048b4" stroke-width="1.30" stroke-linecap="round" stroke-linejoin="round" opacity="0.90"/>
</g>
<line x1="76.2" y1="7.2" x2="78.4" y2="4.2" stroke="#58c4c8" stroke-width="0.90" stroke-linecap="round" opacity="1.00"/>
<g filter="url(#bl2)">
<rect x="70.0" y="18.0" width="70.0" height="20.0" fill="#1a2e90" opacity="0.85"/>
</g>
<line x1="73.6" y1="35.0" x2="77.2" y2="31.4" stroke="#58c4c8" stroke-width="1.30" stroke-linecap="round" opacity="1.00"/>
<line x1="72.0" y1="36.4" x2="75.0" y2="33.6" stroke="#9cd890" stroke-width="0.80" stroke-linecap="round" opacity="1.00"/>
<g filter="url(#bl0)">
<polyline points="80.0,31.5 100.0,29.4 122.0,24.4 137.0,20.2" fill="none" stroke="#2048b4" stroke-width="1.40" stroke-linecap="round" stroke-linejoin="round" opacity="0.90"/>
</g>
<g filter="url(#bl0)">
<polyline points="78.0,34.4 100.0,33.2 137.0,34.0" fill="none" stroke="#2048a8" stroke-width="1.20" stroke-linecap="round" stroke-linejoin="round" opacity="0.80"/>
</g>
</g></g>
<rect x="0" y="0" width="135.7" height="36.4" fill="none" stroke="#3a3a3a" stroke-width="0.55"/>
</g>
<rect x="517.6" y="220.9" width="2.7" height="48.1" fill="url(#jet)" stroke="#444" stroke-width="0.3"/>
<line x1="520.3" y1="227.3" x2="521.9" y2="227.3" stroke="#333" stroke-width="0.4"/><text class="k" x="523.6" y="230.1">120</text>
<line x1="520.3" y1="241.3" x2="521.9" y2="241.3" stroke="#333" stroke-width="0.4"/><text class="k" x="523.6" y="244.1">80</text>
<line x1="520.3" y1="255.3" x2="521.9" y2="255.3" stroke="#333" stroke-width="0.4"/><text class="k" x="523.6" y="258.1">40</text>
<line x1="520.3" y1="269.4" x2="521.9" y2="269.4" stroke="#333" stroke-width="0.4"/><text class="k" x="523.6" y="272.1">0</text>
<text class="t" text-anchor="middle" x="519.0" y="218.0">T − Error<tspan class="u" dx="2.4" letter-spacing="0">K</tspan></text>
</svg>
</body></html>
